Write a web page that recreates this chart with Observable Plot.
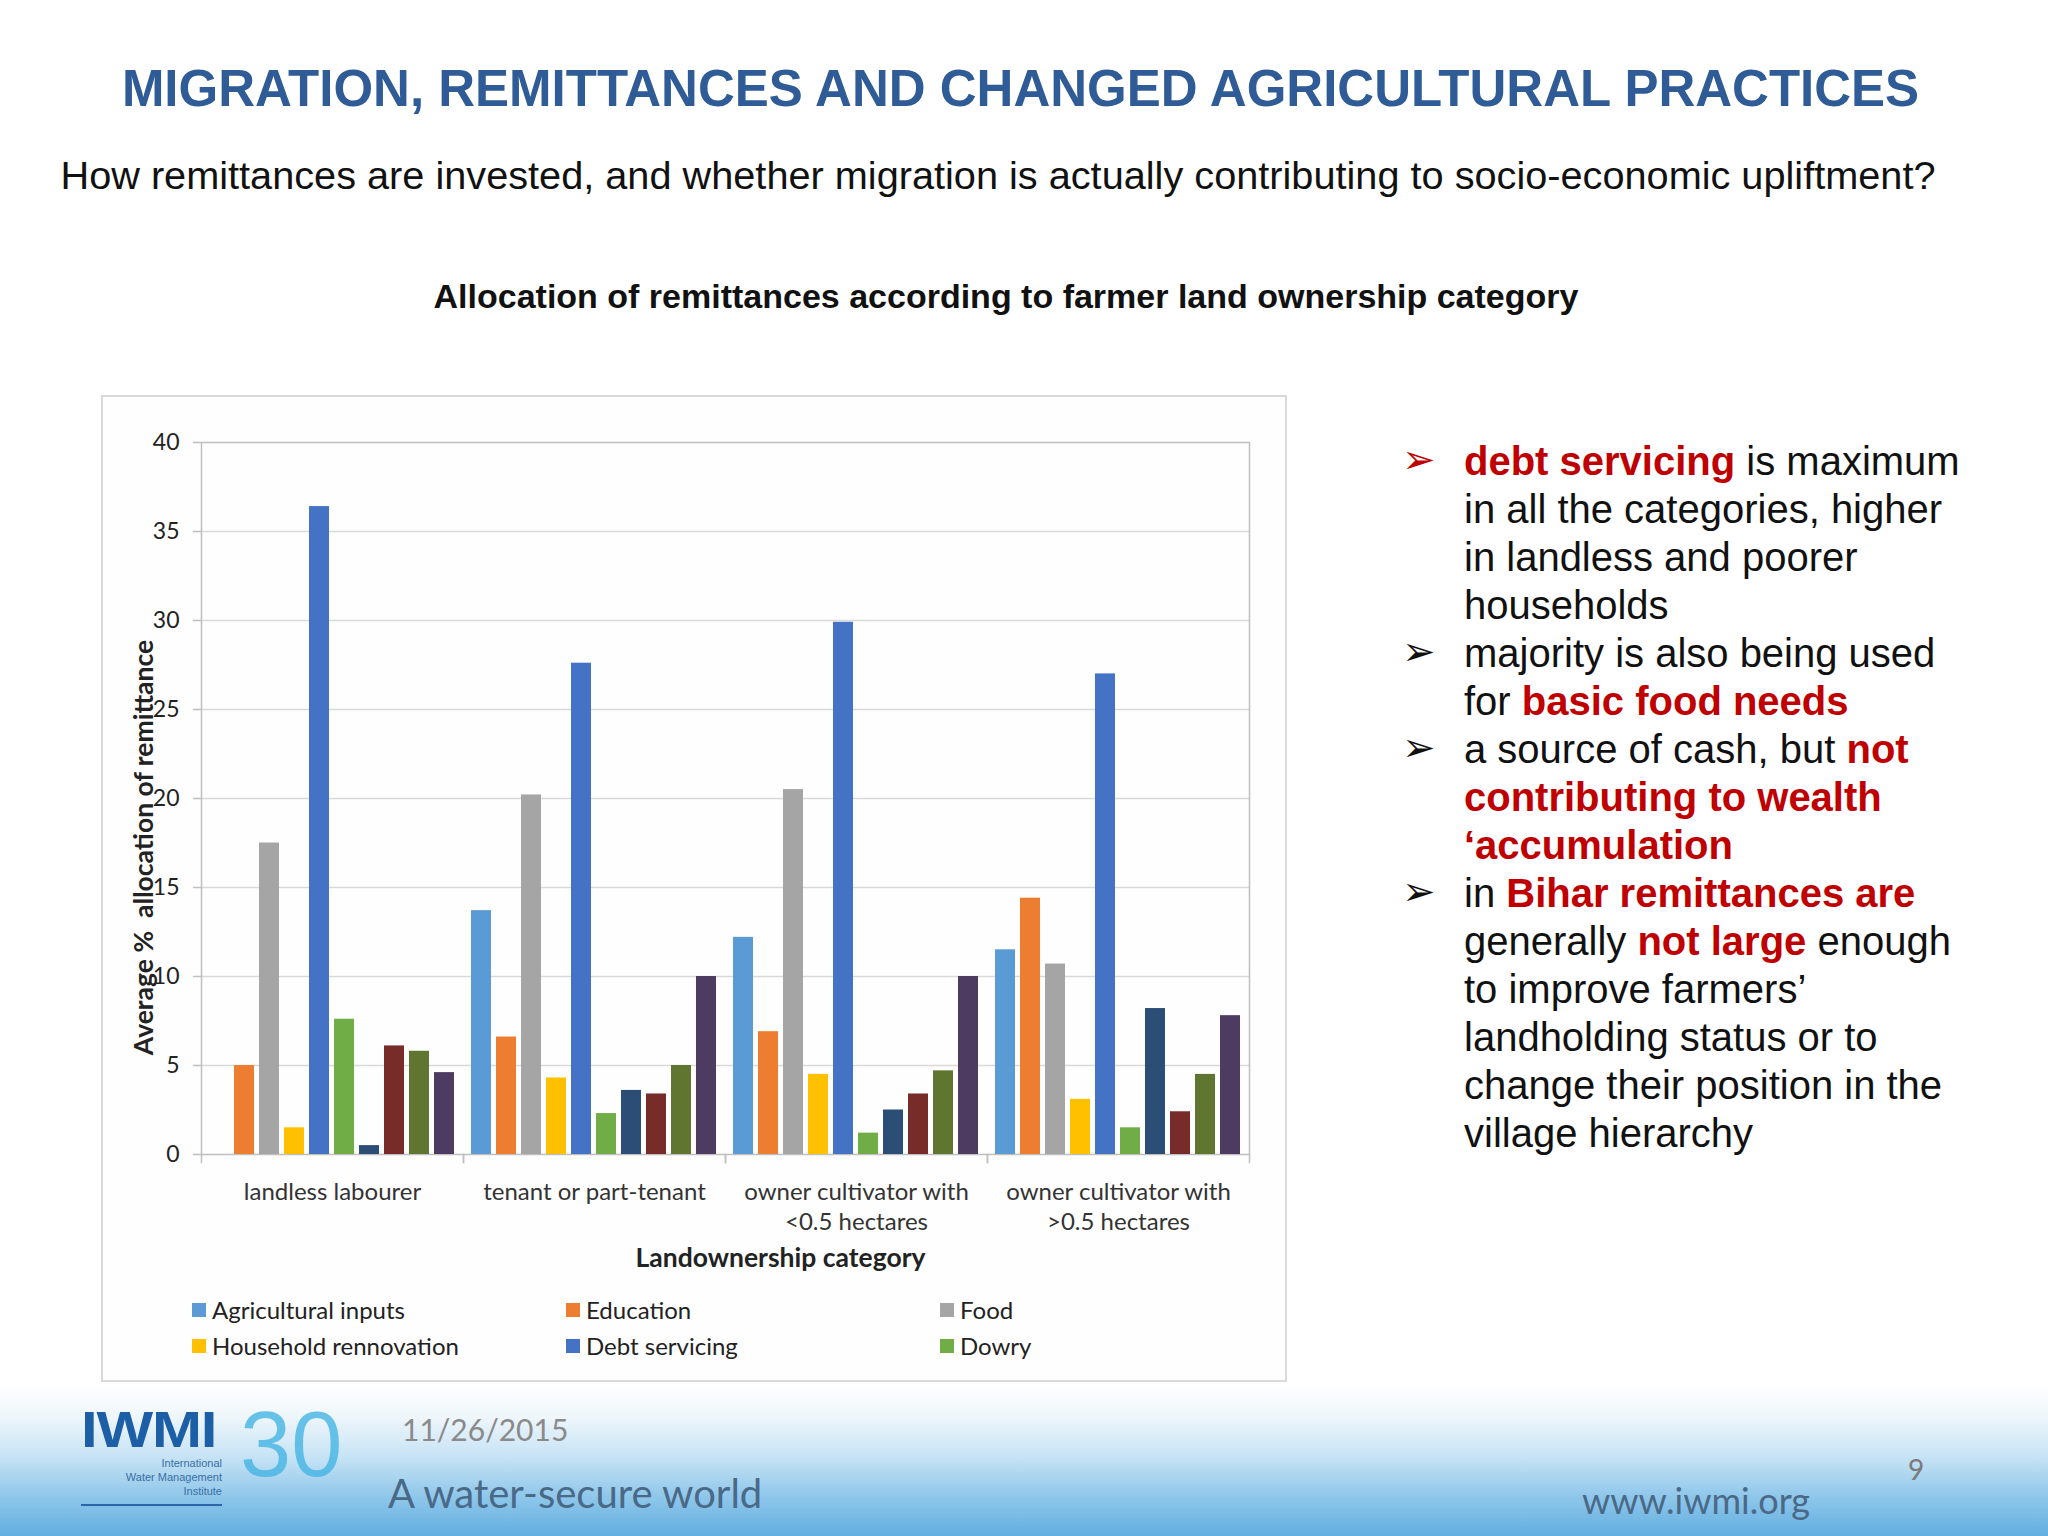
<!DOCTYPE html>
<html>
<head>
<meta charset="utf-8">
<script src="https://cdn.jsdelivr.net/npm/d3@7"></script>
<script src="https://cdn.jsdelivr.net/npm/@observablehq/plot@0.6"></script>
<style>
  html, body { margin: 0; padding: 0; background: #ffffff; }
  #slide { position: relative; width: 2048px; height: 1536px; overflow: hidden; background: #ffffff;
           font-family: "Liberation Sans", Arial, sans-serif; }
  .abs { position: absolute; white-space: nowrap; }
  #title { left: 0; width: 2041px; top: 63px; text-align: center; font-weight: bold; font-size: 51px;
           line-height: 1; color: #2F5C97; }
  #subtitle { left: 0; width: 1996px; top: 156px; text-align: center; font-size: 39.7px; line-height: 1; color: #111; }
  #charttitle { left: 0; width: 2012px; top: 279px; text-align: center; font-weight: bold; font-size: 34px;
                line-height: 1; color: #111; }
  #box { left: 101px; top: 395px; width: 1186px; height: 987px; box-sizing: border-box;
         border: 2px solid #d9d9d9; background: #fefefe; }
  #chart { left: 102px; top: 397px; }
  .leg { position: absolute; font-family: Lato, sans-serif; font-size: 24px; color: #222; line-height: 1; }
  .leg i { position: absolute; left: 0; top: 0; width: 14px; height: 14px; }
  .leg span { position: absolute; left: 20px; top: -5px; white-space: nowrap; }
  #notes { left: 1404px; top: 437px; font-size: 40px; line-height: 48px; color: #111; }
  #notes .row { position: relative; padding-left: 60px; }
  #notes .arrow { position: absolute; left: -2px; top: -2px; font-family: "DejaVu Sans", sans-serif; font-size: 40px; color: #111; }
  #notes .red { color: #C00000; font-weight: bold; }
  #footer { left: 0; top: 1384px; width: 2048px; height: 152px;
            background: linear-gradient(180deg, #ffffff 0%, #eef6fb 22%, #c6e3f5 48%, #8fc7ea 74%, #62aee0 100%); }
  .ftxt { font-family: Lato, sans-serif; line-height: 1; }
</style>
</head>
<body>
<div id="slide">
  <div id="footer" class="abs"></div>

  <div id="title" class="abs">MIGRATION, REMITTANCES AND CHANGED AGRICULTURAL PRACTICES</div>
  <div id="subtitle" class="abs">How remittances are invested, and whether migration is actually contributing to socio-economic upliftment?</div>
  <div id="charttitle" class="abs">Allocation of remittances according to farmer land ownership category</div>

  <div id="box" class="abs"></div>
  <div id="chart" class="abs"></div>
  <div id="legend" class="abs" style="left:0;top:0;"></div>

  <div id="notes" class="abs">
    <div class="row"><span class="arrow" style="color:#C00000">&#x27A2;</span><span class="red">debt servicing</span> is maximum</div>
    <div class="row">in all the categories, higher</div>
    <div class="row">in landless and poorer</div>
    <div class="row">households</div>
    <div class="row"><span class="arrow">&#x27A2;</span>majority is also being used</div>
    <div class="row">for <span class="red">basic food needs</span></div>
    <div class="row"><span class="arrow">&#x27A2;</span>a source of cash, but <span class="red">not</span></div>
    <div class="row"><span class="red">contributing to wealth</span></div>
    <div class="row"><span class="red">&#8216;accumulation</span></div>
    <div class="row"><span class="arrow">&#x27A2;</span>in <span class="red">Bihar remittances are</span></div>
    <div class="row">generally <span class="red">not large</span> enough</div>
    <div class="row">to improve farmers&#8217;</div>
    <div class="row">landholding status or to</div>
    <div class="row">change their position in the</div>
    <div class="row">village hierarchy</div>
  </div>

  <!-- footer branding -->
  <div class="abs" style="left:81px;top:1405px;font-weight:bold;font-size:50px;line-height:1;color:#1D5FA6;transform:scaleX(1.2);transform-origin:left top;letter-spacing:-1px;">IWMI</div>
  <div class="abs" style="left:81px;top:1456px;width:141px;text-align:right;font-size:11px;line-height:14px;color:#3A6EA5;">International<br>Water Management<br>Institute</div>
  <div class="abs" style="left:81px;top:1504px;width:141px;height:2px;background:#2D66A8;"></div>
  <div class="abs" style="left:240px;top:1398px;font-size:92px;line-height:1;color:#45B5E4;opacity:0.8;">30</div>
  <div class="abs ftxt" style="left:402px;top:1414px;font-size:30px;color:#8a8a8a;">11/26/2015</div>
  <div class="abs ftxt" style="left:388px;top:1473px;font-size:40px;color:#4A6987;">A water-secure world</div>
  <div class="abs ftxt" style="left:1582px;top:1482px;font-size:36px;color:#4A6987;">www.iwmi.org</div>
  <div class="abs ftxt" style="left:1908px;top:1455px;font-size:28px;color:#7a7a7a;">9</div>
</div>

<script>
// Landownership categories (x facets)
const categories = [
  "landless labourer",
  "tenant or part-tenant",
  "owner cultivator with\n<0.5 hectares",
  "owner cultivator with\n>0.5 hectares"
];

// Spending series, in drawing order
const series = [
  "Agricultural inputs", "Education", "Food", "Household rennovation", "Debt servicing",
  "Dowry", "Series 7", "Series 8", "Series 9", "Series 10"
];
const seriesColors = [
  "#5B9BD5", "#ED7D31", "#A5A5A5", "#FFC000", "#4472C4",
  "#70AD47", "#2C4D75", "#772C2A", "#5F7530", "#4D3B62"
];

// Average % allocation of remittance, one value per category
const agriculturalInputs   = [0.0, 13.7, 12.2, 11.5];
const education            = [5.0, 6.6, 6.9, 14.4];
const food                 = [17.5, 20.2, 20.5, 10.7];
const householdRenovation  = [1.5, 4.3, 4.5, 3.1];
const debtServicing        = [36.4, 27.6, 29.9, 27.0];
const dowry                = [7.6, 2.3, 1.2, 1.5];
const series7              = [0.5, 3.6, 2.5, 8.2];
const series8              = [6.1, 3.4, 3.4, 2.4];
const series9              = [5.8, 5.0, 4.7, 4.5];
const series10             = [4.6, 10.0, 10.0, 7.8];

const yTicks = [0, 5, 10, 15, 20, 25, 30, 35, 40];
const yTitle = "Average %  allocation of remittance";
const xTitle = "Landownership category";
const legendCount = 6; // entries shown in the legend

const valuesBySeries = [
  agriculturalInputs, education, food, householdRenovation, debtServicing,
  dowry, series7, series8, series9, series10
];
const rows = [];
categories.forEach((c, ci) => {
  series.forEach((s, si) => rows.push({category: c, series: s, value: valuesBySeries[si][ci]}));
});

const W = 1184, H = 885, mTop = 45, mLeft = 99, mRight = 37, mBottom = 128;
const plotH = H - mTop - mBottom;
const gray = "#bfbfbf";

const chart = Plot.plot({
  width: W,
  height: H,
  marginTop: mTop,
  marginLeft: mLeft,
  marginRight: mRight,
  marginBottom: mBottom,
  style: {fontFamily: "Lato, sans-serif", fontSize: "22px", color: "#333", background: "transparent", overflow: "visible"},
  fx: {domain: categories, padding: 0, label: null},
  x: {domain: series, paddingInner: 0.2, paddingOuter: 0.34, axis: null},
  y: {domain: [0, 40], label: null},
  color: {domain: series, range: seriesColors},
  marks: [
    Plot.ruleY(yTicks.filter((t) => t > 0 && t < 40), {stroke: "#d9d9d9", strokeWidth: 1.5}),
    Plot.frame({facet: "super", stroke: gray, strokeWidth: 1.5}),
    Plot.frame({anchor: "left", stroke: gray, strokeWidth: 1.5, insetTop: plotH, insetBottom: -8}),
    Plot.frame({anchor: "right", stroke: gray, strokeWidth: 1.5, insetTop: plotH, insetBottom: -8}),
    Plot.barY(rows, {fx: "category", x: "series", y: "value", fill: "series"}),
    Plot.axisY(yTicks, {tickSize: 8, tickPadding: 14, stroke: gray, strokeWidth: 1.5, fill: "#222", fontSize: 23, label: null}),
    Plot.axisFx({anchor: "bottom", tickSize: 0, tickPadding: 24, fontSize: 24, lineHeight: 1.25, fill: "#333", label: null}),
    Plot.text([yTitle], {facetAnchor: "left", frameAnchor: "left", textAnchor: "middle", rotate: -90, dx: -57, dy: 49,
                         fontWeight: "bold", fontSize: 26.5, fill: "#222"}),
    Plot.text([xTitle], {facet: "super", frameAnchor: "bottom", textAnchor: "middle", dx: 55, dy: 112,
                         fontWeight: "bold", fontSize: 26.5, fill: "#222"})
  ]
});
document.getElementById("chart").appendChild(chart);

// Legend: three columns, two rows, first entries of the series list
const legend = document.getElementById("legend");
const legCols = [192, 566, 940], legRows = [1303, 1339];
series.slice(0, legendCount).forEach((s, i) => {
  const item = document.createElement("div");
  item.className = "leg";
  item.style.left = legCols[i % 3] + "px";
  item.style.top = legRows[Math.floor(i / 3)] + "px";
  const sw = document.createElement("i");
  sw.style.background = seriesColors[i];
  const tx = document.createElement("span");
  tx.textContent = s;
  item.appendChild(sw);
  item.appendChild(tx);
  legend.appendChild(item);
});
</script>
</body>
</html>
